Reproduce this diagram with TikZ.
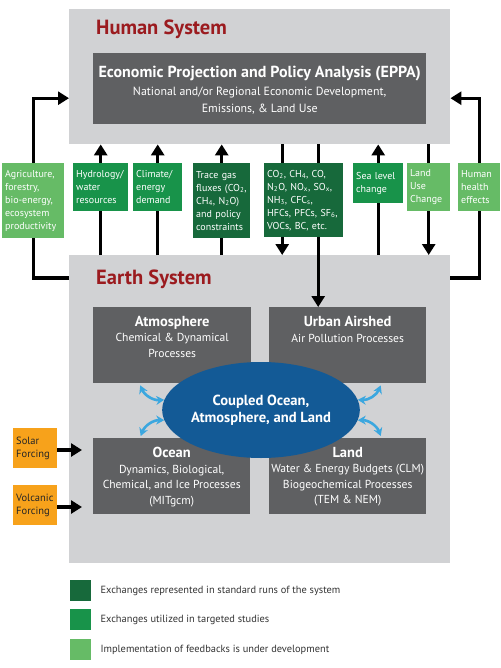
\documentclass[tikz,border=0pt]{standalone}
\usepackage{fontspec}
\setmainfont{PT Sans}
\usetikzlibrary{positioning,shapes.geometric,arrows.meta}
\definecolor{sysgray}{HTML}{D1D2D4}
\definecolor{modgray}{HTML}{5F6062}
\definecolor{titlered}{HTML}{9B1B1F}
\definecolor{oceanblue}{HTML}{135A96}
\definecolor{arrowblue}{HTML}{3BA7DF}
\definecolor{stdgreen}{HTML}{17693B}
\definecolor{tgtgreen}{HTML}{18934A}
\definecolor{devgreen}{HTML}{66BB66}
\definecolor{forceorange}{HTML}{F7A21B}
\definecolor{keytext}{HTML}{333333}
\newcommand{\modeltitlefont}{\fontsize{14.5}{15.5}\selectfont\bfseries}
\pgfdeclarelayer{back}
\pgfdeclarelayer{mid}
\pgfsetlayers{back,mid,main}

\begin{document}
\begin{tikzpicture}[
x=1pt, y=-1pt,
system/.style={rectangle, fill=sysgray, minimum width=381pt, anchor=north west, inner sep=0pt},
systitle/.style={anchor=base west, inner sep=0pt, text=titlered, font=\fontsize{20.5}{24}\selectfont\bfseries},
model/.style={rectangle, fill=modgray, anchor=north west, inner sep=0pt},
modeltext/.style={text=white, align=center, inner sep=0pt, font=\fontsize{11.6}{15.5}\selectfont},
exchange/.style={rectangle, anchor=north west, text=white, align=left, inner sep=3pt, font=\fontsize{10}{13}\selectfont},
standard/.style={exchange, fill=stdgreen},
targeted/.style={exchange, fill=tgtgreen},
develop/.style={exchange, fill=devgreen},
forcing/.style={rectangle, anchor=north west, fill=forceorange, text=black!85, align=left, inner sep=3pt, text width=38pt, minimum height=40pt, font=\fontsize{10.5}{13}\selectfont},
coupled/.style={ellipse, fill=oceanblue, text=white, align=center, inner sep=0pt, minimum width=176pt, minimum height=96pt, font=\fontsize{14.6}{17.5}\selectfont\bfseries},
flow/.style={line width=3.3pt, -{Triangle[length=11pt, width=13pt]}},
couple/.style={line width=2.6pt, arrowblue, {Stealth[length=8pt, width=9pt]}-{Stealth[length=8pt, width=9pt]}},
legendkey/.style={rectangle, anchor=north west, minimum size=21pt, inner sep=0pt},
legendtext/.style={text=keytext, inner sep=0pt, font=\fontsize{10.4}{12}\selectfont},
]
\useasboundingbox (0,0) rectangle (500,668);

\begin{pgfonlayer}{back}
\node[system, minimum height=135pt] (human) at (69,9) {};
\node[system, minimum height=308pt] (earth) at (69,255) {};
\end{pgfonlayer}

\node[systitle] (humantitle) at (96,35) {Human System};
\node[systitle] (earthtitle) at (96,284) {Earth System};

\node[model, minimum width=333pt, minimum height=71pt] (eppa) at (93,53) {};
\node[modeltext, below=13pt of eppa.north, font=\fontsize{11.9}{17}\selectfont] (eppatext)
	{{\fontsize{16}{17}\selectfont\bfseries Economic Projection and Policy Analysis (EPPA)}\\[1pt]
	 National and/or Regional Economic Development,\\ Emissions, \& Land Use};

\node[model, minimum width=158pt, minimum height=76pt] (atmo) at (93,307) {};
\node[model, minimum width=157pt, minimum height=76pt] (urban) at (269,307) {};
\node[model, minimum width=157pt, minimum height=76pt] (ocean) at (93,438) {};
\node[model, minimum width=157pt, minimum height=76pt] (land) at (269,438) {};

\node[modeltext, below=9pt of atmo.north] (atmotext)
	{{\modeltitlefont Atmosphere}\\ Chemical \& Dynamical\\ Processes};
\node[modeltext, below=9pt of urban.north] (urbantext)
	{{\modeltitlefont Urban Airshed}\\ Air Pollution Processes};
\node[modeltext, below=9pt of ocean.north] (oceantext)
	{{\modeltitlefont Ocean}\\ Dynamics, Biological,\\ Chemical, and Ice Processes\\ (MITgcm)};
\node[modeltext, below=9pt of land.north] (landtext)
	{{\modeltitlefont Land}\\ Water \& Energy Budgets (CLM)\\ Biogeochemical Processes\\ (TEM \& NEM)};

\node[coupled] (coupled) at (261,410) {Coupled Ocean,\\Atmosphere, and Land};

\node[develop, text width=56pt, minimum height=75pt] (agri) at (2,163)
	{Agriculture,\\forestry,\\bio-energy,\\ecosystem\\productivity};
\node[targeted, text width=49pt, minimum height=48pt] (hydro) at (73,163)
	{Hydrology/\\water\\resources};
\node[targeted, text width=43pt, minimum height=48pt] (climate) at (133,163)
	{Climate/\\energy\\demand};
\node[standard, text width=51pt, minimum height=75pt] (trace) at (193,163)
	{Trace gas\\fluxes (CO\textsubscript{2},\\CH\textsubscript{4}, N\textsubscript{2}O)\\and policy\\constraints};
\node[standard, text width=73pt, minimum height=74pt] (emis) at (264,163)
	{CO\textsubscript{2}, CH\textsubscript{4}, CO,\\N\textsubscript{2}O, NO\textsubscript{x}, SO\textsubscript{x},\\NH\textsubscript{3}, CFC\textsubscript{s},\\HFCs, PFCs, SF\textsubscript{6},\\VOCs, BC, etc.};
\node[targeted, text width=44pt, minimum height=40pt] (sea) at (353,163)
	{Sea level\\change};
\node[develop, text width=37pt, minimum height=48pt] (landuse) at (407,163)
	{Land\\Use\\Change};
\node[develop, text width=36pt, minimum height=48pt] (health) at (458,163)
	{Human\\health\\effects};

\node[forcing] (solar) at (13,428) {Solar\\Forcing};
\node[forcing] (volcanic) at (13,485) {Volcanic\\Forcing};

\coordinate (emisdown) at ([xshift=-21.5pt]emis.north);
\coordinate (emisurban) at ([xshift=14.5pt]emis.north);

\begin{pgfonlayer}{mid}
\draw[flow] ([yshift=-23pt]earth.north west) -| (agri.center) |- ([yshift=-21.5pt]human.west);
\draw[flow] ([yshift=-23pt]earth.north east) -| (health.center) |- ([yshift=-21.5pt]human.east);
\draw[flow] (hydro |- earth.north) -- (hydro |- human.south);
\draw[flow] (climate |- earth.north) -- (climate |- human.south);
\draw[flow] (trace |- earth.north) -- (trace |- human.south);
\draw[flow] (sea |- earth.north) -- (sea |- human.south);
\draw[flow] (emisdown |- human.south) -- (emisdown |- earth.north);
\draw[flow] (emisurban |- human.south) -- (emisurban |- urban.north);
\draw[flow] (landuse |- human.south) -- (landuse |- earth.north);
\end{pgfonlayer}

\draw[flow] (solar.east |- 0,450) -- ([xshift=-11pt]ocean.west |- 0,450);
\draw[flow] (volcanic.east |- 0,507) -- ([xshift=-11pt]ocean.west |- 0,507);

\draw[couple] ([xshift=-32pt,yshift=-2pt]atmo.south) to[bend right=35] (coupled.174);
\draw[couple] (coupled.186) to[bend right=35] ([xshift=-31pt,yshift=2pt]ocean.north);
\draw[couple] ([xshift=33pt,yshift=-2pt]urban.south) to[bend left=35] (coupled.6);
\draw[couple] (coupled.-6) to[bend left=35] ([xshift=33pt,yshift=2pt]land.north);

\node[legendkey, fill=stdgreen] (keystd) at (70,580) {};
\node[legendkey, fill=tgtgreen] (keytgt) at (70,609) {};
\node[legendkey, fill=devgreen] (keydev) at (70,639) {};
\node[legendtext, right=9pt of keystd] (labelstd) {Exchanges represented in standard runs of the system};
\node[legendtext, right=9pt of keytgt] (labeltgt) {Exchanges utilized in targeted studies};
\node[legendtext, right=9pt of keydev] (labeldev) {Implementation of feedbacks is under development};
\end{tikzpicture}
\end{document}
